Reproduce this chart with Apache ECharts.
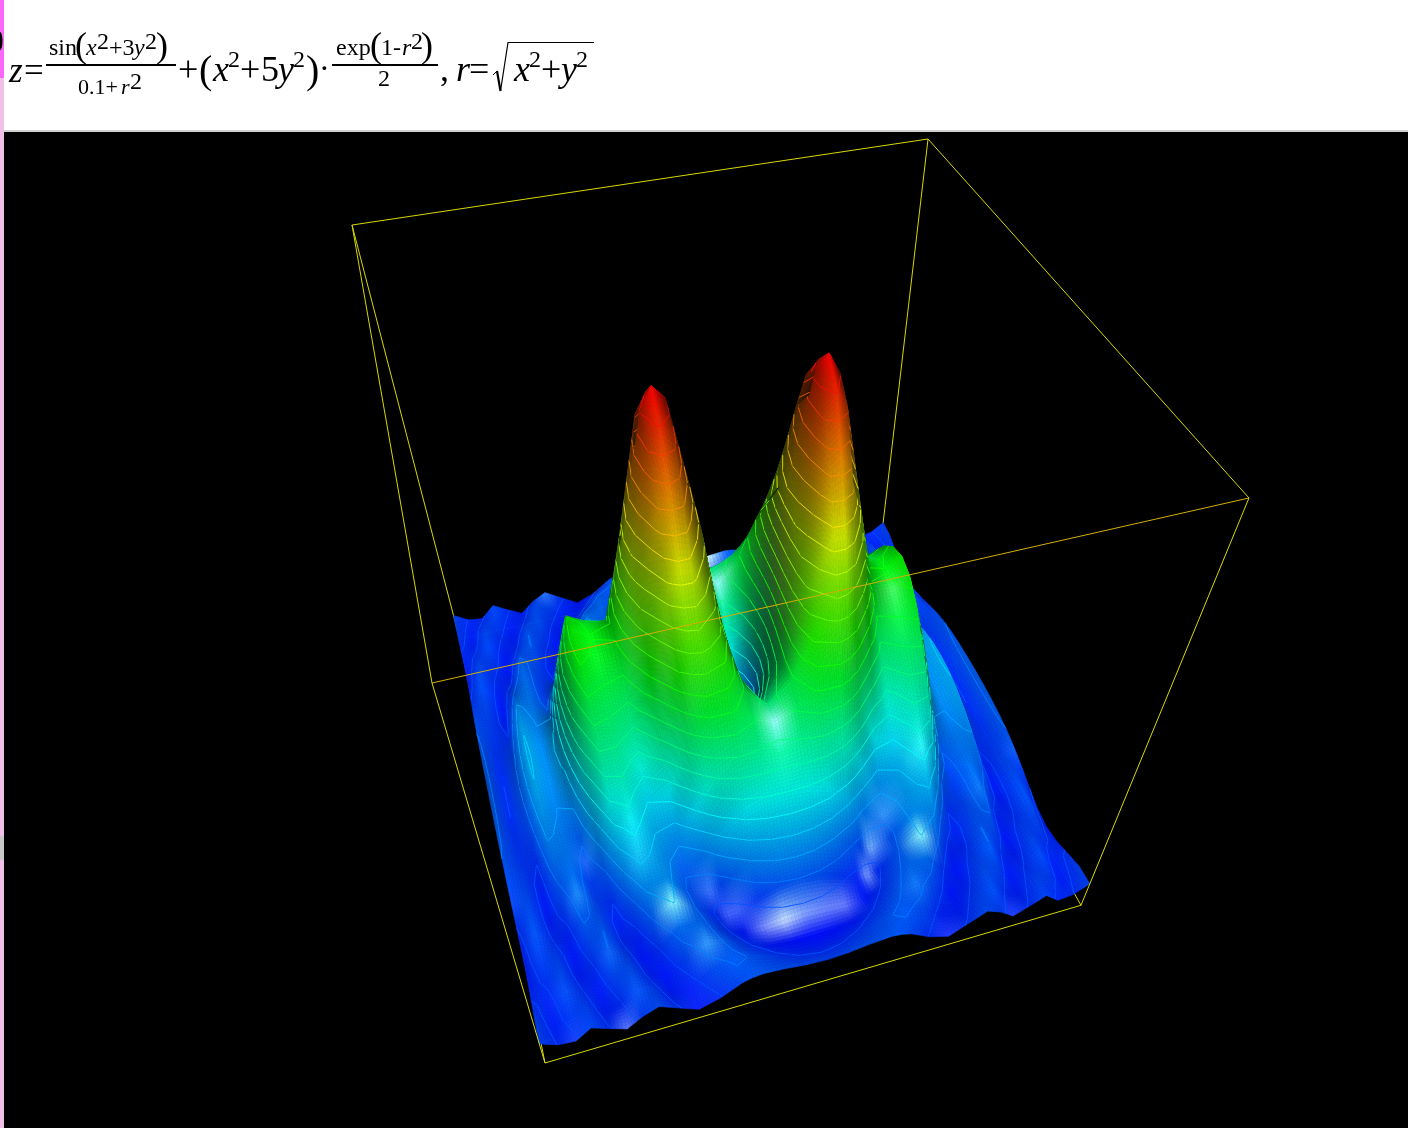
<!DOCTYPE html>
<html><head><meta charset="utf-8">
<style>html,body{margin:0;padding:0;background:#000}#c{width:1408px;height:1128px}</style>
<script src="https://cdn.jsdelivr.net/npm/echarts@6/dist/echarts.min.js"></script>
</head><body><div id="c"></div>
<script>
// Grid positions (one quadrant; the surface in the picture is mirrored about both axes)
const xsHalf=[0,.2,.4,.6,.8,1,1.2,1.4,1.6,1.8,2,2.2,2.4,2.6];
const ysHalf=[0,.2,.4,.6,.7,.8,1,1.2,1.4,1.55,1.7,1.85,2,2.15,2.3,2.45,2.6];
// Height values, one list per y, following xsHalf
const zY000=[0,.338,.798,1.107,1.266,1.265,1.108,.824,.475,.144,-.085,-.149,-.061,.078];
const zY020=[1.116,1.186,1.321,1.434,1.461,1.366,1.14,.813,.444,.112,-.101,-.143,-.041,.092];
const zY040=[2.702,2.591,2.369,2.138,1.879,1.557,1.167,.741,.337,.027,-.126,-.11,.017,.128];
const zY060=[3.624,3.476,3.109,2.638,2.119,1.575,1.034,.543,.162,-.063,-.108,-.017,.108,.148];
const zY070=[3.726,3.576,3.182,2.65,2.054,1.448,.88,.405,.075,-.075,-.06,.053,.151,.136];
const zY080=[3.563,3.416,3.021,2.47,1.849,1.233,.688,.271,.024,-.045,.02,.128,.172,.1];
const zY100=[2.628,2.509,2.184,1.721,1.212,.744,.384,.173,.112,.152,.211,.207,.107,-.035];
const zY120=[1.718,1.646,1.447,1.172,.886,.647,.491,.416,.38,.332,.227,.072,-.07,-.115];
const zY140=[1.687,1.641,1.516,1.339,1.141,.944,.756,.566,.363,.155,-.025,-.118,-.092,.012];
const zY155=[1.796,1.747,1.608,1.397,1.139,.857,.57,.299,.073,-.075,-.114,-.052,.054,.109];
const zY170=[1.32,1.267,1.117,.895,.632,.368,.141,-.013,-.076,-.046,.04,.115,.114,.03];
const zY185=[.547,.514,.424,.301,.176,.083,.042,.058,.109,.154,.149,.076,-.031,-.093];
const zY200=[.367,.358,.335,.308,.287,.274,.264,.239,.18,.084,-.025,-.096,-.088,-.007];
const zY215=[.513,.502,.469,.415,.341,.248,.141,.029,-.065,-.11,-.088,-.012,.068,.085];
const zY230=[.151,.137,.098,.041,-.021,-.075,-.101,-.089,-.036,.038,.095,.096,.033,-.049];
const zY245=[-.022,-.02,-.015,-.001,.024,.06,.1,.127,.122,.076,0,-.068,-.083,-.028];
const zY260=[.198,.196,.188,.173,.146,.103,.045,-.02,-.076,-.097,-.068,-.001,.062,.069];
const zRows=[zY000,zY020,zY040,zY060,zY070,zY080,zY100,zY120,zY140,zY155,zY170,zY185,zY200,zY215,zY230,zY245,zY260];

// Camera fitted to the box in the picture (homogeneous columns)
const C0=[857.2,1671.9,1.5728],C1=[1010.4,-107.9,.15486],C2=[97.7,-344.4,.5047],C3=[-425.2,-988.9,-.5728];
const LIGHT=[-.05,-.3,.95],HALF=[-.08,-.55,.83];
const SPAN=5.2,ZSCALE=4.157,ZBASE=.06;
const ZMIN=-.2,ZMAX=3.72;
const LEVEL_START=-.19,LEVEL_STEP=.17,LEVEL_COUNT=24;
const SPEC_EXP=36,SPEC_GAIN=.95;
const SHADE_STEP=4;

function hom(u,v,w){return [0,1,2].map(k=>C0[k]+u*C1[k]+v*C2[k]+w*C3[k]);}
function proj(u,v,w){const h=hom(u,v,w);return [h[0]/h[2],h[1]/h[2],h[2]];}
function jet(z){
  const t=Math.max(0,Math.min(1,(z-ZMIN)/(ZMAX-ZMIN)))*4,i=Math.min(3,Math.floor(t)),f=t-i;
  return i===0?[0,255*f,255]:i===1?[0,255,255*(1-f)]:i===2?[255*f,255,0]:[255,255*(1-f),0];
}
function shade(d){
  if(d<.5)return .12+1.5*d;
  if(d<.85)return .87+(d-.5)*.17;
  return Math.min(1,.93+(d-.85)*1.2);
}
const mirror=a=>a.slice(1).reverse().map(v=>-v).concat(a);
const xs=mirror(xsHalf),ys=mirror(ysHalf);
const nx=xs.length,ny=ys.length;
const xIdx=i=>Math.abs(i-(nx-1)/2),yIdx=j=>Math.abs(j-(ny-1)/2);
const Z=(i,j)=>zRows[yIdx(j)][xIdx(i)];
const dot=(a,b)=>a[0]*b[0]+a[1]*b[1]+a[2]*b[2];
const V=[];
for(let j=0;j<ny;j++){V[j]=[];for(let i=0;i<nx;i++){
  const z=Z(i,j),u=.5+ys[j]/SPAN,v=.5+xs[i]/SPAN,w=ZBASE+z/ZSCALE;
  const jm=Math.max(0,j-1),jp=Math.min(ny-1,j+1),im=Math.max(0,i-1),ip=Math.min(nx-1,i+1);
  const dwdu=(Z(i,jp)-Z(i,jm))/(ys[jp]-ys[jm])*SPAN/ZSCALE;
  const dwdv=(Z(ip,j)-Z(im,j))/(xs[ip]-xs[im])*SPAN/ZSCALE;
  let n=[-dwdu,-dwdv,1];const nl=Math.hypot(...n);n=n.map(a=>a/nl);
  const b=shade(Math.abs(dot(n,LIGHT))),s=SPEC_GAIN*Math.pow(Math.max(0,dot(n,HALF)),SPEC_EXP);
  const c=jet(z).map(a=>Math.min(255,a*b+255*s));
  V[j][i]={z,p:proj(u,v,w),c};
}}
const rgb=c=>'rgb('+c.map(a=>Math.round(a)).join(',')+')';
const lerp=(a,b,t)=>a.map((x,k)=>x+(b[k]-x)*t);
const dist=(a,b)=>Math.hypot(a[0]-b[0],a[1]-b[1]);
function cellChildren(i,j){
  const a=V[j][i],b=V[j][i+1],c=V[j+1][i+1],d=V[j+1][i];
  const pt=(s,t)=>{const e=lerp(a.p,b.p,s),f=lerp(d.p,c.p,s);return lerp(e,f,t);};
  const col=(s,t)=>{const e=lerp(a.c,b.c,s),f=lerp(d.c,c.c,s);return lerp(e,f,t);};
  const out=[];
  const subS=Math.max(1,Math.min(12,Math.ceil(Math.max(dist(a.p,b.p),dist(d.p,c.p))/SHADE_STEP)));
  const subT=Math.max(1,Math.min(14,Math.ceil(Math.max(dist(a.p,d.p),dist(b.p,c.p))/SHADE_STEP)));
  for(let q=0;q<subT;q++)for(let r=0;r<subS;r++){
    const s0=r/subS,s1=(r+1)/subS,t0=q/subT,t1=(q+1)/subT;
    const P=[pt(s0,t0),pt(s1,t0),pt(s1,t1),pt(s0,t1)];
    const f=rgb(col((s0+s1)/2,(t0+t1)/2));
    out.push({type:'polygon',silent:true,shape:{points:P.map(p=>[p[0],p[1]])},style:{fill:f,stroke:f,lineWidth:.6}});
  }
  // iso-lines of this cell (marching squares)
  const ring=[a,b,c,d];
  for(let k=0;k<LEVEL_COUNT;k++){
    const L=LEVEL_START+k*LEVEL_STEP,pts=[];
    for(let e=0;e<4;e++){
      const m=ring[e],n=ring[(e+1)%4];
      if((m.z<L)!==(n.z<L))pts.push(lerp(m.p,n.p,(L-m.z)/(n.z-m.z)));
    }
    const segs=[];
    if(pts.length===2)segs.push([pts[0],pts[1]]);
    else if(pts.length===4){
      const centre=(a.z+b.z+c.z+d.z)/4;
      if((centre<L)===(a.z<L)){segs.push([pts[0],pts[1]],[pts[2],pts[3]]);}
      else{segs.push([pts[3],pts[0]],[pts[1],pts[2]]);}
    }
    for(const sg of segs)out.push({type:'line',silent:true,shape:{x1:sg[0][0],y1:sg[0][1],x2:sg[1][0],y2:sg[1][1]},
      style:{stroke:rgb(jet(L+.14)),lineWidth:1,opacity:.85}});
  }
  return out;
}
const cells=[];
for(let j=0;j<ny-1;j++)for(let i=0;i<nx-1;i++){
  const depth=V[j][i].p[2]+V[j][i+1].p[2]+V[j+1][i+1].p[2]+V[j+1][i].p[2];
  cells.push({i,j,depth});
}
cells.sort((a,b)=>b.depth-a.depth);
const cellIndex=cells.map((c,k)=>[k]);

// Box corners in unit-cube coordinates and its edges
const boxCorners=[[0,0,0],[1,0,0],[1,1,0],[0,1,0],[0,0,1],[1,0,1],[1,1,1],[0,1,1]];
const hiddenEdges=[[0,1],[1,2],[2,3],[3,0],[2,6],[3,7]];
const frontEdges=[[4,5],[5,6],[6,7],[7,4],[0,4],[1,5]];
const YELLOW='#d8d800',ORANGE='#d4ae00';
function edgeSeries(edges,z){
  return {type:'custom',coordinateSystem:'none',z,silent:true,animation:false,clip:false,data:edges.map((e,k)=>[k]),
    renderItem(p,api){
      const e=edges[api.value(0)],A=proj(...boxCorners[e[0]]),B=proj(...boxCorners[e[1]]);
      return {type:'line',shape:{x1:A[0],y1:A[1],x2:B[0],y2:B[1]},
        style:{stroke:(e[0]===4&&e[1]===5)?ORANGE:YELLOW,lineWidth:1}};
    }};
}
// Formula pieces: text, left, baseline, size, italic
const formula=[
 ['z',9,83,35,1],['=',24,83,35,0],
 ['sin',49,55,24,0],['(',75,58,36,0],['x',86,55,24,1],['2',97,49,24,0],['+3',109,55,24,0],['y',134,55,24,1],['2',145,49,24,0],[')',156,58,36,0],
 ['0.1+',78,94,22,0],['r',121,94,22,1],['2',130,89,24,0],
 ['+',178,82,36,0],['(',199,84,40,0],['x',213,82,36,1],['2',228,67,24,0],['+',240,82,36,0],['5',261,82,36,0],['y',278,82,36,1],['2',293,67,24,0],
 [')',306,84,40,0],['·',319,80,32,0],
 ['exp',336,55,24,0],['(',370,58,36,0],['1-',381,55,24,0],['r',402,55,24,1],['2',411,49,24,0],[')',421,58,36,0],
 ['2',378,86,24,0],
 [',',440,82,36,0],['r',456,82,36,1],['=',469,82,36,0],
 ['x',514,82,36,1],['2',529,67,24,0],['+',541,82,36,0],['y',561,82,36,1],['2',576,67,24,0]
];
const graphics=[
 {type:'rect',z:0,shape:{x:0,y:0,width:1408,height:130},style:{fill:'#fff'}},
 {type:'rect',z:0,shape:{x:0,y:130,width:1408,height:2},style:{fill:'#d0d0d0'}},
 {type:'rect',z:1,shape:{x:0,y:0,width:4,height:78},style:{fill:'#fa66fa'}},
 {type:'rect',z:1,shape:{x:0,y:78,width:4,height:1050},style:{fill:'#f0c0e8'}},
 {type:'rect',z:1,shape:{x:0,y:836,width:4,height:24},style:{fill:'#c8c8c8'}},
 {type:'ellipse',z:2,shape:{cx:0,cy:41,rx:2.5,ry:9},style:{fill:'#000'}},
 {type:'rect',z:2,shape:{x:46,y:64,width:130,height:2},style:{fill:'#000'}},
 {type:'rect',z:2,shape:{x:332,y:64,width:106,height:2},style:{fill:'#000'}},
 {type:'polyline',z:2,shape:{points:[[493,75],[497,71]]},style:{stroke:'#000',lineWidth:1,fill:'none'}},
 {type:'polyline',z:2,shape:{points:[[497,71],[500.5,91]]},style:{stroke:'#000',lineWidth:2.2,fill:'none'}},
 {type:'polyline',z:2,shape:{points:[[500.5,91],[508,42.5],[594,42.5]]},style:{stroke:'#000',lineWidth:1.2,fill:'none'}}
].concat(formula.map(f=>({type:'text',z:3,x:f[1],y:f[2]+f[3]*.22,style:{text:f[0],x:0,y:0,fill:'#000',
  font:(f[4]?'italic ':'')+f[3]+'px "Liberation Serif"',verticalAlign:'bottom',align:'left'}})));

const chart=echarts.init(document.getElementById('c'),null,{renderer:'canvas',width:1408,height:1128});
chart.setOption({
  backgroundColor:'#000',animation:false,
  graphic:{elements:graphics},
  series:[
    edgeSeries(hiddenEdges,1),
    {type:'custom',coordinateSystem:'none',z:2,silent:true,animation:false,clip:false,progressive:0,data:cellIndex,
     renderItem(p,api){const c=cells[api.value(0)];return {type:'group',children:cellChildren(c.i,c.j)};}},
    edgeSeries(frontEdges,3)
  ]
});
</script></body></html>
